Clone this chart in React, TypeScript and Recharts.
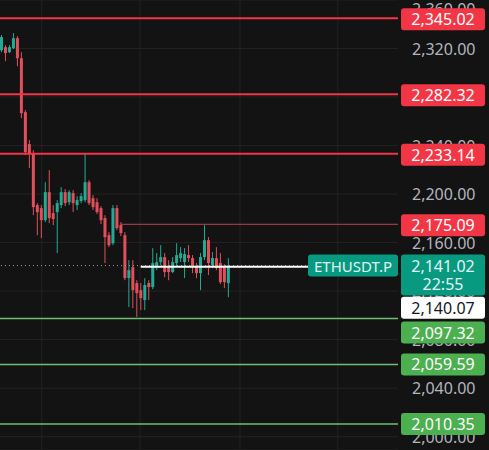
import { ComposedChart, Bar, XAxis, YAxis, CartesianGrid, ReferenceLine } from "recharts";

const WIDTH = 489;
const HEIGHT = 450;
const AXIS_W = 91;
const PLOT_RIGHT = WIDTH - AXIS_W;
const SLOTS = 100;
const DOMAIN = [1989, 2360];

// 15m candles, ETHUSDT.P
const OPENS = [
  2318.6, 2321.1, 2317.0, 2320.3, 2328.5, 2312.0, 2267.5, 2241.2, 2233.7, 2190.9,
  2188.4, 2178.5, 2201.6, 2184.3, 2185.1, 2190.9, 2201.6, 2193.3, 2200.8, 2190.9,
  2194.2, 2195.0, 2209.8, 2196.6, 2193.3, 2188.4, 2180.2, 2166.1, 2159.5, 2188.4,
  2174.4, 2166.1, 2130.7, 2139.8, 2126.6, 2120.8, 2112.6, 2126.6, 2123.3, 2139.0,
  2143.9, 2148.0, 2139.8, 2135.7, 2143.1, 2147.2, 2143.9, 2149.7, 2147.2, 2139.8,
  2134.8, 2148.0, 2162.0, 2141.4, 2147.2, 2143.1, 2139.8, 2126.6,
];
const HIGHS = [
  2331.0, 2322.8, 2322.8, 2332.7, 2330.2, 2317.0, 2269.2, 2244.5, 2236.2, 2192.5,
  2190.9, 2209.8, 2219.7, 2190.9, 2195.0, 2205.7, 2204.1, 2203.2, 2203.2, 2198.3,
  2200.8, 2233.7, 2211.5, 2199.1, 2196.6, 2190.0, 2182.6, 2168.6, 2190.9, 2190.9,
  2176.9, 2168.6, 2145.5, 2145.5, 2129.0, 2126.6, 2130.7, 2129.0, 2155.4, 2151.3,
  2157.9, 2151.3, 2145.5, 2148.0, 2159.5, 2156.2, 2155.4, 2157.9, 2149.7, 2143.1,
  2151.3, 2174.4, 2164.5, 2152.1, 2156.2, 2151.3, 2142.2, 2147.2,
];
const LOWS = [
  2317.0, 2309.6, 2316.2, 2319.5, 2305.4, 2262.6, 2232.1, 2221.4, 2182.6, 2166.1,
  2163.7, 2176.9, 2176.0, 2174.4, 2151.3, 2188.4, 2190.0, 2190.9, 2185.1, 2186.8,
  2192.5, 2193.3, 2190.9, 2186.8, 2183.5, 2175.2, 2143.1, 2156.2, 2157.9, 2170.3,
  2165.3, 2129.0, 2106.8, 2106.0, 2098.6, 2104.3, 2104.3, 2112.6, 2121.6, 2137.3,
  2141.4, 2131.5, 2129.0, 2134.8, 2139.8, 2143.9, 2130.7, 2143.9, 2134.8, 2130.7,
  2120.8, 2145.5, 2133.2, 2139.0, 2137.3, 2125.8, 2122.4, 2115.0,
];
const CLOSES = [
  2329.4, 2316.2, 2321.1, 2328.5, 2312.0, 2266.7, 2234.6, 2233.7, 2189.2, 2185.1,
  2178.5, 2201.6, 2180.2, 2179.4, 2192.5, 2201.6, 2192.5, 2201.6, 2192.5, 2195.0,
  2198.3, 2209.8, 2192.5, 2189.2, 2185.1, 2178.5, 2164.5, 2157.9, 2188.4, 2171.9,
  2167.8, 2130.7, 2137.3, 2120.8, 2118.3, 2114.2, 2125.0, 2123.3, 2143.1, 2143.9,
  2148.0, 2135.7, 2135.7, 2143.9, 2149.7, 2151.3, 2150.5, 2147.2, 2139.8, 2134.8,
  2148.0, 2162.0, 2143.1, 2147.2, 2139.0, 2127.4, 2127.4, 2141.02,
];

const PRICE_TICKS = [2000, 2040, 2080, 2120, 2160, 2200, 2240, 2280, 2320, 2360];
const RESISTANCE = [2345.02, 2282.32, 2233.14];
const SUPPORT = [2097.32, 2059.59, 2010.35];
const SWING_HIGH = 2175.09;
const SWING_HIGH_FROM = 30;
const RAY_PRICE = 2140.07;
const RAY_FROM = 35;
const LAST_PRICE = 2141.02;
const COUNTDOWN = "22:55";
const SYMBOL = "ETHUSDT.P";
// time grid positions (slot index)
const TIME_GRID = [10, 34.7, 59.8, 84.4];

const UP = "#22ab94";
const DOWN = "#e0505c";
const RED = "#f23645";
const GREEN = "#4caf50";
const TEAL = "#089981";
const FONT = "Noto Sans";

const rows = Array.from({ length: SLOTS }, (_, i) => ({
  i,
  open: OPENS[i],
  high: HIGHS[i],
  low: LOWS[i],
  close: CLOSES[i],
}));

const fmt = (v: number) =>
  v.toLocaleString("en-US", { minimumFractionDigits: 2, maximumFractionDigits: 2 });

function Candle(props: any) {
  const { x, y, width, height, payload } = props;
  if (!payload || payload.open == null) return <g />;
  const { open, close, high, low } = payload;
  const top = Math.min(y, y + height);
  const h = Math.abs(height);
  const k = high > low ? h / (high - low) : 0;
  const yO = top + (high - open) * k;
  const yC = top + (high - close) * k;
  const color = close >= open ? UP : DOWN;
  const cx = x + width / 2;
  return (
    <g>
      <line x1={cx} x2={cx} y1={top} y2={top + h} stroke={color} strokeWidth={1} />
      <rect
        x={x}
        y={Math.min(yO, yC)}
        width={width}
        height={Math.max(1, Math.abs(yC - yO))}
        fill={color}
      />
    </g>
  );
}

function AxisTick({ x, y, payload }: any) {
  return (
    <text x={x} y={y} dominantBaseline="central" textAnchor="start" fill="#b2b5be" fontSize={16} fontFamily={FONT}>
      {fmt(payload.value)}
    </text>
  );
}

function PriceTag({ viewBox, value, fill, color = "#ffffff", dy = 1 }: any) {
  const x = PLOT_RIGHT + 3;
  const cy = viewBox.y + dy;
  return (
    <g>
      <rect x={x} y={cy - 11} width={84} height={22} rx={3} fill={fill} />
      <text x={x + 42} y={cy} dominantBaseline="central" textAnchor="middle" fill={color} fontSize={16} fontFamily={FONT}>
        {fmt(value)}
      </text>
    </g>
  );
}

function LastPriceTag({ viewBox }: any) {
  const x = PLOT_RIGHT + 3;
  const cy = viewBox.y;
  return (
    <g>
      <rect x={PLOT_RIGHT - 90} y={cy - 11} width={90} height={22} rx={3} fill={TEAL} />
      <text x={PLOT_RIGHT - 45} y={cy} dominantBaseline="central" textAnchor="middle" fill="#e0f5f1" fontSize={15} fontFamily={FONT}>
        {SYMBOL}
      </text>
      <rect x={x} y={cy - 11} width={84} height={41} rx={3} fill={TEAL} />
      <text x={x + 42} y={cy} dominantBaseline="central" textAnchor="middle" fill="#e0f5f1" fontSize={16} fontFamily={FONT}>
        {fmt(LAST_PRICE)}
      </text>
      <text x={x + 42} y={cy + 18} dominantBaseline="central" textAnchor="middle" fill="#e0f5f1" fontSize={16} fontFamily={FONT}>
        {COUNTDOWN}
      </text>
    </g>
  );
}

const layer: React.CSSProperties = { position: "absolute", left: 0, top: 0 };

export default function App() {
  return (
    <div style={{ position: "fixed", left: 0, top: 0, width: WIDTH, height: HEIGHT, background: "#131313" }}>
      {/* candles, grid and price scale */}
      <div style={layer}>
        <ComposedChart
          width={WIDTH}
          height={HEIGHT}
          data={rows}
          margin={{ top: 0, right: 0, bottom: 0, left: 0 }}
          barCategoryGap={0}
        >
          <CartesianGrid
            stroke="#232323"
            verticalCoordinatesGenerator={({ offset }: any) =>
              TIME_GRID.map((s) => offset.left + ((s + 0.5) * offset.width) / SLOTS)
            }
          />
          <XAxis dataKey="i" hide />
          <YAxis
            orientation="right"
            width={AXIS_W}
            domain={DOMAIN}
            ticks={PRICE_TICKS}
            allowDataOverflow
            axisLine={false}
            tickLine={false}
            tickMargin={8}
            tick={<AxisTick />}
          />
          <Bar
            dataKey={(d: any) => (d.high == null ? undefined : [d.low, d.high])}
            shape={(p: any) => <Candle {...p} />}
            barSize={3}
            isAnimationActive={false}
          />
        </ComposedChart>
      </div>
      {/* drawn levels and price tags on top */}
      <div style={layer}>
        <ComposedChart
          width={WIDTH}
          height={HEIGHT}
          data={rows}
          margin={{ top: 0, right: 0, bottom: 0, left: 0 }}
        >
          <XAxis dataKey="i" hide />
          <YAxis
            orientation="right"
            width={AXIS_W}
            domain={DOMAIN}
            ticks={PRICE_TICKS}
            allowDataOverflow
            axisLine={false}
            tickLine={false}
            tick={false}
          />
          {RESISTANCE.map((v) => (
            <ReferenceLine
              key={v}
              y={v}
              stroke={RED}
              strokeWidth={2}
              label={(p: any) => <PriceTag viewBox={p.viewBox} value={v} fill={RED} />}
            />
          ))}
          <ReferenceLine
            segment={[
              { x: SWING_HIGH_FROM, y: SWING_HIGH },
              { x: SLOTS - 1, y: SWING_HIGH },
            ]}
            stroke="#c2424d"
            strokeWidth={1}
            label={(p: any) => <PriceTag viewBox={p.viewBox} value={SWING_HIGH} fill={RED} />}
          />
          {SUPPORT.map((v, k) => (
            <ReferenceLine
              key={v}
              y={v}
              stroke="#6fbf73"
              strokeWidth={1.5}
              label={(p: any) => <PriceTag viewBox={p.viewBox} value={v} fill={GREEN} dy={k === 0 ? 14 : 0} />}
            />
          ))}
          <ReferenceLine y={LAST_PRICE} stroke="#9a9a9a" strokeDasharray="1 3" />
          <ReferenceLine
            segment={[
              { x: RAY_FROM, y: RAY_PRICE },
              { x: SLOTS - 1, y: RAY_PRICE },
            ]}
            stroke="#ffffff"
            strokeWidth={2}
            label={(p: any) => <PriceTag viewBox={p.viewBox} value={RAY_PRICE} fill="#ffffff" color="#131722" dy={41} />}
          />
          <ReferenceLine
            y={LAST_PRICE}
            stroke="none"
            label={(p: any) => <LastPriceTag viewBox={p.viewBox} />}
          />
        </ComposedChart>
      </div>
    </div>
  );
}
